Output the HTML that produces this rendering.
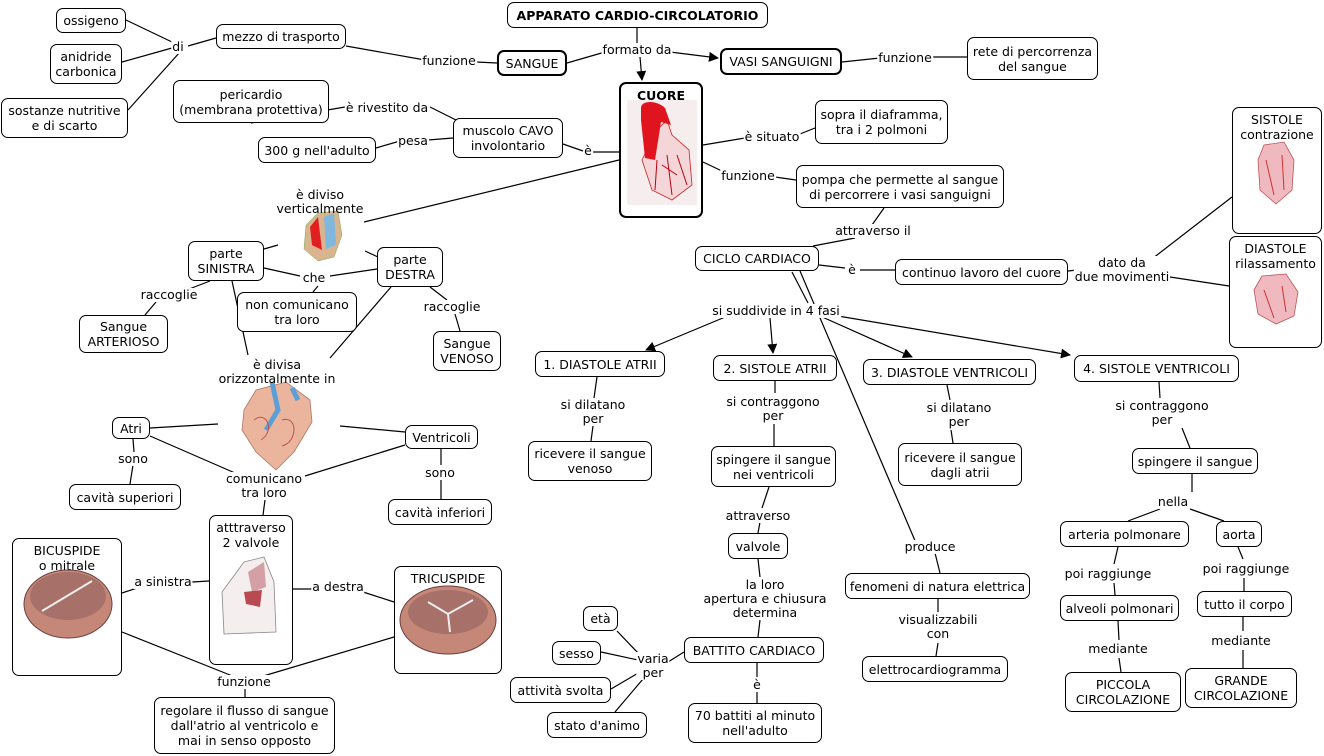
<!DOCTYPE html>
<html><head><meta charset="utf-8"><style>
body{margin:0;width:1324px;height:756px;background:#fff;position:relative;overflow:hidden;font-family:"DejaVu Sans","Liberation Sans",sans-serif;font-size:12.5px;color:#000}
.b{position:absolute;border:1px solid #000;border-radius:7px;background:#fff;display:flex;align-items:center;justify-content:center;text-align:center;line-height:15px;box-sizing:border-box;white-space:nowrap}
.t{border-width:2px}
.l{position:absolute;background:#fff;text-align:center;line-height:14px;white-space:nowrap;transform:translate(-50%,-50%);padding:0 1px}
.tp{align-items:flex-start;padding-top:4px}
svg{position:absolute;left:0;top:0}
</style></head><body>
<svg width="1324" height="756" stroke="#000" stroke-width="1.2" fill="none">
<defs><marker id="a" markerWidth="10" markerHeight="10" refX="9" refY="5" orient="auto" markerUnits="userSpaceOnUse"><path d="M0,0L10,5L0,10z" fill="#000" stroke="none"/></marker></defs>
<path d="M637,28V45"/>
<path d="M640,57L642,80" marker-end="url(#a)"/>
<path d="M670,52L718,58" marker-end="url(#a)"/>
<path d="M567,63L605,52"/>
<path d="M476,62L497,63"/>
<path d="M346,46L425,60"/>
<path d="M842,62L880,58M932,57L967,57"/>
<path d="M126,20L172,42M122,62L172,48M128,110L180,52M188,46L216,38"/>
<path d="M251,123L345,107M430,107L460,122"/>
<path d="M376,148L400,141M428,140L453,138"/>
<path d="M563,144L583,151M593,152L619,152"/>
<path d="M703,145L745,138M800,134L815,128"/>
<path d="M703,162L724,172M775,177L796,180"/>
<path d="M619,160L364,222"/>
<path d="M264,249L278,245M365,251L378,257"/>
<path d="M264,268L300,276M330,276L377,269M318,286L313,292"/>
<path d="M210,281L184,291M156,302L145,315"/>
<path d="M430,287L447,300M455,314L460,331"/>
<path d="M232,281L248,355M391,287L330,358"/>
<path d="M150,428L218,424M340,426L405,432"/>
<path d="M133,439L134,452M133,465L130,484"/>
<path d="M150,436L235,473M305,476L405,445"/>
<path d="M441,449L441,465M441,480L441,499"/>
<path d="M265,500L263,515"/>
<path d="M122,593L140,587M192,582L209,581M293,589L313,589M363,592L394,602"/>
<path d="M122,632L235,677M260,677L394,637M245,689L245,697"/>
<path d="M884,208L872,225M855,238L813,246"/>
<path d="M819,265L845,268M860,270L895,270"/>
<path d="M1068,271L1095,268M1148,262L1232,197M1170,277L1229,286"/>
<path d="M792,272L808,303"/>
<path d="M730,315L646,350" marker-end="url(#a)"/>
<path d="M770,318L773,353" marker-end="url(#a)"/>
<path d="M820,316L912,357" marker-end="url(#a)"/>
<path d="M820,313L1070,355" marker-end="url(#a)"/>
<path d="M800,271L916,543M935,553L940,573"/>
<path d="M597,377L594,398M593,426L591,441"/>
<path d="M775,381L775,393M774,424L774,446"/>
<path d="M947,385L950,400M951,430L953,443"/>
<path d="M1159,382L1160,398M1182,428L1190,448"/>
<path d="M769,487L762,508M760,522L758,533"/>
<path d="M758,559L760,577M760,620L758,637"/>
<path d="M938,599L938,612M938,643L936,656"/>
<path d="M757,663L757,677M757,691L757,703"/>
<path d="M617,631L640,655M601,652L638,660M611,689L640,672M615,712L643,679M668,662L684,652"/>
<path d="M1192,474L1192,492M1160,509L1128,521M1190,509L1224,521"/>
<path d="M1118,547L1114,564M1114,583L1115,595"/>
<path d="M1238,547L1243,559M1244,578L1244,591"/>
<path d="M1118,621L1119,640M1119,658L1121,672"/>
<path d="M1243,617L1243,631M1243,650L1243,668"/>
</svg>

<div class="b" style="left:507px;top:2px;width:261px;height:26px;font-weight:bold">APPARATO CARDIO-CIRCOLATORIO</div>
<div class="b t" style="left:497px;top:50px;width:70px;height:26px">SANGUE</div>
<div class="b t" style="left:720px;top:48px;width:122px;height:27px">VASI SANGUIGNI</div>
<div class="b" style="left:967px;top:37px;width:131px;height:43px">rete di percorrenza<br>del sangue</div>
<div class="b" style="left:216px;top:24px;width:130px;height:25px">mezzo di trasporto</div>
<div class="b" style="left:56px;top:8px;width:70px;height:25px">ossigeno</div>
<div class="b" style="left:50px;top:44px;width:72px;height:40px">anidride<br>carbonica</div>
<div class="b" style="left:1px;top:98px;width:127px;height:40px">sostanze nutritive<br>e di scarto</div>
<div class="b" style="left:173px;top:80px;width:156px;height:43px">pericardio<br>(membrana protettiva)</div>
<div class="b" style="left:453px;top:118px;width:110px;height:40px">muscolo CAVO<br>involontario</div>
<div class="b" style="left:258px;top:137px;width:118px;height:26px">300 g nell'adulto</div>
<div class="b t tp" style="left:619px;top:82px;width:84px;height:136px;font-weight:bold">CUORE</div>
<svg style="left:627px;top:100px" width="70" height="105" viewBox="0 0 70 105">
<rect x="0" y="0" width="70" height="105" fill="#f6eeee" stroke="none"/>
<path d="M18,5L22,45L15,60L25,90L45,100L65,85L62,50L45,35L40,20L32,28L30,5z" fill="#f4d6d8" stroke="#c22" stroke-width=".8"/>
<path d="M14,8C14,0 30,0 38,8L44,25L34,22L28,60L18,58L14,20z" fill="#e0141e" stroke="none"/>
<path d="M30,60L28,90M40,55L45,95M50,55L60,85M35,65L50,75" stroke="#b01" stroke-width="1" fill="none"/>
</svg>
<div class="b" style="left:815px;top:100px;width:133px;height:44px">sopra il diaframma,<br>tra i 2 polmoni</div>
<div class="b" style="left:796px;top:165px;width:208px;height:43px">pompa che permette al sangue<br>di percorrere i vasi sanguigni</div>
<div class="b tp" style="left:1232px;top:107px;width:90px;height:127px">SISTOLE<br>contrazione</div>
<svg style="left:1254px;top:140px" width="44" height="66"><path d="M10,5L30,2L40,20L38,50L22,64L6,50L4,20z" fill="#f0b9c0" stroke="#b55" stroke-width=".8"/><path d="M12,20L20,55M28,15L30,50" stroke="#c33" fill="none"/></svg>
<div class="b tp" style="left:1229px;top:236px;width:93px;height:112px">DIASTOLE<br>rilassamento</div>
<svg style="left:1252px;top:272px" width="48" height="54"><path d="M10,4L34,2L46,20L42,44L24,52L6,42L2,18z" fill="#f0b9c0" stroke="#b55" stroke-width=".8"/><path d="M12,18L22,46M30,14L34,40" stroke="#c33" fill="none"/></svg>
<div class="b" style="left:695px;top:246px;width:124px;height:25px">CICLO CARDIACO</div>
<div class="b" style="left:895px;top:259px;width:173px;height:26px">continuo lavoro del cuore</div>
<div class="b" style="left:188px;top:241px;width:76px;height:40px">parte<br>SINISTRA</div>
<div class="b" style="left:377px;top:247px;width:66px;height:40px">parte<br>DESTRA</div>
<div class="b" style="left:237px;top:292px;width:120px;height:40px">non comunicano<br>tra loro</div>
<div class="b" style="left:79px;top:315px;width:89px;height:38px">Sangue<br>ARTERIOSO</div>
<div class="b" style="left:433px;top:331px;width:68px;height:40px">Sangue<br>VENOSO</div>
<svg style="left:298px;top:205px" width="50" height="58"><path d="M8,20L20,8L40,6L44,30L36,52L20,56L6,44z" fill="#d9b48f" stroke="#7a5" stroke-width=".5"/><path d="M12,22L20,12L24,45L14,40z" fill="#e02020"/><path d="M26,12L36,8L38,40L28,44z" fill="#7fb8dc"/></svg>
<svg style="left:236px;top:380px" width="88" height="92"><path d="M8,30L20,10L50,2L74,20L76,42L58,72L40,90L20,72L6,50z" fill="#eab59c" stroke="#a76" stroke-width=".8"/><path d="M36,2L42,30L30,50M56,8L62,20" stroke="#5aa0d8" stroke-width="5" fill="none"/><path d="M18,40C30,30 40,50 25,60M46,40C62,35 62,62 46,66" stroke="#b55" fill="none"/></svg>
<div class="b" style="left:112px;top:417px;width:38px;height:22px">Atri</div>
<div class="b" style="left:405px;top:425px;width:73px;height:24px">Ventricoli</div>
<div class="b" style="left:69px;top:484px;width:112px;height:26px">cavità superiori</div>
<div class="b" style="left:388px;top:499px;width:104px;height:26px">cavità inferiori</div>
<div class="b tp" style="left:209px;top:515px;width:84px;height:150px">atttraverso<br>2 valvole</div>
<svg style="left:214px;top:552px" width="72" height="86"><path d="M8,40L30,10L50,5L60,30L62,80L10,82z" fill="#f4eeee" stroke="#888" stroke-width=".8"/><path d="M34,20L50,10L52,35L38,40z" fill="#d4a0a6"/><path d="M30,40L48,38L46,55L32,52z" fill="#b84a52"/></svg>
<div class="b tp" style="left:12px;top:538px;width:110px;height:138px">BICUSPIDE<br>o mitrale</div>
<svg style="left:22px;top:566px" width="92" height="80"><ellipse cx="46" cy="38" rx="44" ry="34" fill="#c58878" stroke="#6a4040"/><ellipse cx="46" cy="30" rx="38" ry="24" fill="#a77068"/><path d="M20,45L70,15" stroke="#eee" stroke-width="2" fill="none"/></svg>
<div class="b tp" style="left:394px;top:566px;width:108px;height:108px">TRICUSPIDE</div>
<svg style="left:398px;top:582px" width="100" height="76"><ellipse cx="50" cy="38" rx="48" ry="34" fill="#c58878" stroke="#6a4040"/><ellipse cx="50" cy="30" rx="40" ry="22" fill="#a77068"/><path d="M30,20L50,32L75,18M50,32L52,50" stroke="#eee" stroke-width="2" fill="none"/></svg>
<div class="b" style="left:154px;top:697px;width:181px;height:57px">regolare il flusso di sangue<br>dall'atrio al ventricolo e<br>mai in senso opposto</div>
<div class="b" style="left:535px;top:351px;width:130px;height:26px">1. DIASTOLE ATRII</div>
<div class="b" style="left:713px;top:355px;width:124px;height:26px">2. SISTOLE ATRII</div>
<div class="b" style="left:863px;top:359px;width:173px;height:26px">3. DIASTOLE VENTRICOLI</div>
<div class="b" style="left:1074px;top:355px;width:165px;height:27px">4. SISTOLE VENTRICOLI</div>
<div class="b" style="left:528px;top:441px;width:124px;height:40px">ricevere il sangue<br>venoso</div>
<div class="b" style="left:711px;top:446px;width:125px;height:41px">spingere il sangue<br>nei ventricoli</div>
<div class="b" style="left:898px;top:443px;width:124px;height:43px">ricevere il sangue<br>dagli atrii</div>
<div class="b" style="left:1132px;top:448px;width:126px;height:26px">spingere il sangue</div>
<div class="b" style="left:728px;top:533px;width:60px;height:26px">valvole</div>
<div class="b" style="left:845px;top:573px;width:185px;height:26px">fenomeni di natura elettrica</div>
<div class="b" style="left:862px;top:656px;width:146px;height:26px">elettrocardiogramma</div>
<div class="b" style="left:684px;top:637px;width:140px;height:26px">BATTITO CARDIACO</div>
<div class="b" style="left:688px;top:703px;width:134px;height:40px">70 battiti al minuto<br>nell'adulto</div>
<div class="b" style="left:583px;top:606px;width:35px;height:25px">età</div>
<div class="b" style="left:552px;top:641px;width:49px;height:24px">sesso</div>
<div class="b" style="left:510px;top:677px;width:101px;height:26px">attività svolta</div>
<div class="b" style="left:547px;top:712px;width:100px;height:26px">stato d'animo</div>
<div class="b" style="left:1060px;top:521px;width:129px;height:26px">arteria polmonare</div>
<div class="b" style="left:1216px;top:521px;width:46px;height:26px">aorta</div>
<div class="b" style="left:1060px;top:595px;width:119px;height:26px">alveoli polmonari</div>
<div class="b" style="left:1197px;top:591px;width:95px;height:26px">tutto il corpo</div>
<div class="b" style="left:1065px;top:672px;width:116px;height:40px">PICCOLA<br>CIRCOLAZIONE</div>
<div class="b" style="left:1185px;top:668px;width:112px;height:40px">GRANDE<br>CIRCOLAZIONE</div>

<div class="l" style="left:178px;top:47px">di</div>
<div class="l" style="left:449px;top:61px">funzione</div>
<div class="l" style="left:637px;top:50px">formato da</div>
<div class="l" style="left:905px;top:58px">funzione</div>
<div class="l" style="left:387px;top:108px">è rivestito da</div>
<div class="l" style="left:413px;top:141px">pesa</div>
<div class="l" style="left:588px;top:151px">è</div>
<div class="l" style="left:772px;top:137px">è situato</div>
<div class="l" style="left:748px;top:176px">funzione</div>
<div class="l" style="left:320px;top:202px;background:transparent">è diviso<br>verticalmente</div>
<div class="l" style="left:873px;top:231px">attraverso il</div>
<div class="l" style="left:852px;top:270px">è</div>
<div class="l" style="left:1122px;top:270px">dato da<br>due movimenti</div>
<div class="l" style="left:314px;top:278px">che</div>
<div class="l" style="left:169px;top:295px">raccoglie</div>
<div class="l" style="left:452px;top:307px">raccoglie</div>
<div class="l" style="left:776px;top:311px">si suddivide in 4 fasi</div>
<div class="l" style="left:277px;top:372px;background:transparent">è divisa<br>orizzontalmente in</div>
<div class="l" style="left:133px;top:459px">sono</div>
<div class="l" style="left:440px;top:473px">sono</div>
<div class="l" style="left:264px;top:486px">comunicano<br>tra loro</div>
<div class="l" style="left:593px;top:412px">si dilatano<br>per</div>
<div class="l" style="left:773px;top:409px">si contraggono<br>per</div>
<div class="l" style="left:959px;top:415px">si dilatano<br>per</div>
<div class="l" style="left:1162px;top:413px">si contraggono<br>per</div>
<div class="l" style="left:1173px;top:502px">nella</div>
<div class="l" style="left:758px;top:516px">attraverso</div>
<div class="l" style="left:765px;top:599px">la loro<br>apertura e chiusura<br>determina</div>
<div class="l" style="left:930px;top:547px">produce</div>
<div class="l" style="left:938px;top:627px">visualizzabili<br>con</div>
<div class="l" style="left:653px;top:666px">varia<br>per</div>
<div class="l" style="left:757px;top:685px">è</div>
<div class="l" style="left:1108px;top:574px">poi raggiunge</div>
<div class="l" style="left:1246px;top:569px">poi raggiunge</div>
<div class="l" style="left:1118px;top:649px">mediante</div>
<div class="l" style="left:1241px;top:641px">mediante</div>
<div class="l" style="left:163px;top:582px">a sinistra</div>
<div class="l" style="left:338px;top:587px">a destra</div>
<div class="l" style="left:244px;top:682px">funzione</div>
</body></html>
